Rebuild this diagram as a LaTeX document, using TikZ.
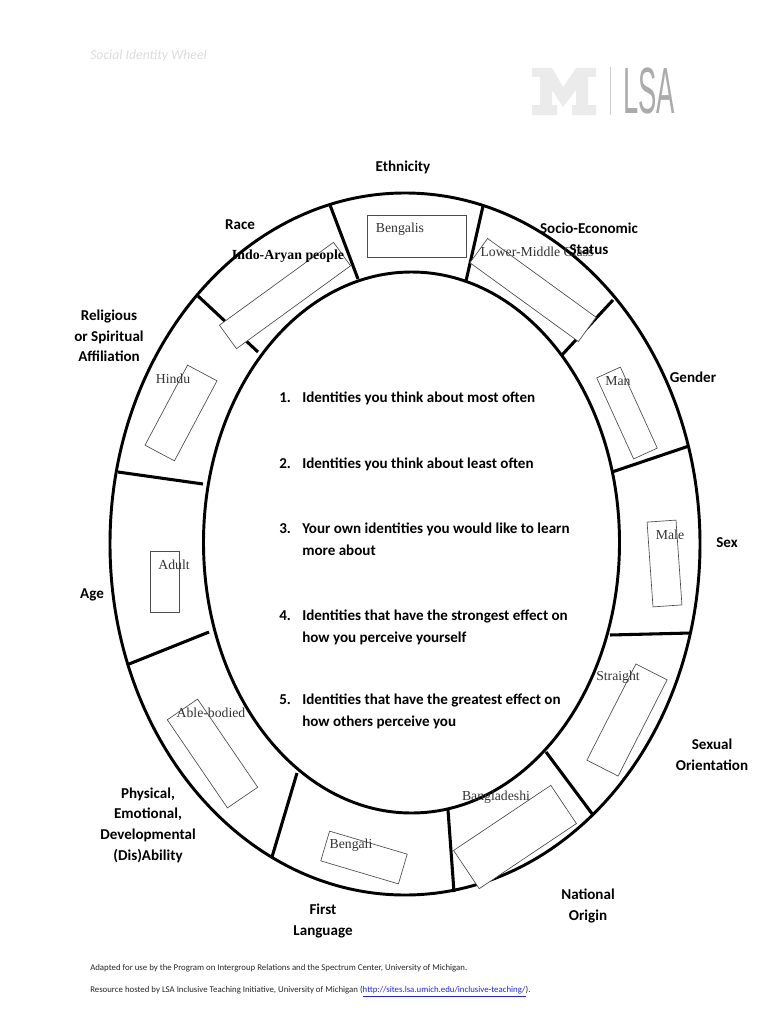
\documentclass[tikz,border=0pt]{standalone}
\usepackage{fontspec}
\usetikzlibrary{shapes.geometric}
\setmainfont{Carlito}
\newfontfamily\boxfont{Liberation Serif}
\newfontfamily\logofont{Liberation Sans}
\definecolor{logolight}{HTML}{EBEBEB}
\definecolor{logodark}{HTML}{ABABAB}
\definecolor{titlegray}{HTML}{DCDCDC}
\definecolor{linkblue}{HTML}{2020FF}

\begin{document}
\begin{tikzpicture}[x=0.75pt,y=-0.75pt]
\useasboundingbox (0,0) rectangle (768,1024);
\begin{scope}[ring/.style={ellipse,draw=black,line width=2.2pt,inner sep=0pt,outer sep=0pt}]
    \node (outer) [ring,minimum width=442.5pt,minimum height=526.5pt] at (405,544) {};
    \node (inner) [ring,minimum width=312pt,minimum height=405.75pt] at (411.5,542.5) {};
\end{scope}
\begin{scope}
    \coordinate (a1) at (330,205);
    \coordinate (a2) at (358,279);
    \coordinate (b1) at (483,206);
    \coordinate (b2) at (466,281);
    \coordinate (c1) at (613,300);
    \coordinate (c2) at (561,356);
    \coordinate (d1) at (689,446);
    \coordinate (d2) at (612,472);
    \coordinate (e1) at (691,633);
    \coordinate (e2) at (610,635);
    \coordinate (f1) at (593,815);
    \coordinate (f2) at (546,752);
    \coordinate (g1) at (454,892);
    \coordinate (g2) at (448,810);
    \coordinate (h1) at (272,857);
    \coordinate (h2) at (297,773);
    \coordinate (i1) at (129,664);
    \coordinate (i2) at (209,632);
    \coordinate (j1) at (118,472);
    \coordinate (j2) at (203,484);
    \coordinate (k1) at (198,296);
    \coordinate (k2) at (258,352);
\end{scope}
\begin{scope}[spoke/.style={draw=black,line width=2.3pt}]
    \path (a1) edge [spoke] (a2);
    \path (b1) edge [spoke] (b2);
    \path (c1) edge [spoke] (c2);
    \path (d1) edge [spoke] (d2);
    \path (e1) edge [spoke] (e2);
    \path (f1) edge [spoke] (f2);
    \path (g1) edge [spoke] (g2);
    \path (h1) edge [spoke] (h2);
    \path (i1) edge [spoke] (i2);
    \path (j1) edge [spoke] (j2);
    \path (k1) edge [spoke] (k2);
\end{scope}
\begin{scope}[every node/.style={rectangle,draw=black!70,fill=white,line width=0.5pt,inner sep=0pt}]
    \node (bengalisbox) [minimum width=74.25pt,minimum height=31.5pt] at (416.5,236) {};
    \node (indobox) [minimum width=105.75pt,minimum height=21.75pt,rotate=36] at (285,295.5) {};
    \node (classbox) [minimum width=100.5pt,minimum height=22.5pt,rotate=-36] at (533,290) {};
    \node (manbox) [minimum width=66.8pt,minimum height=19.5pt,rotate=-65.5] at (627,413) {};
    \node (hindubox) [minimum width=68pt,minimum height=25pt,rotate=62] at (181,413) {};
    \node (malebox) [minimum width=63.75pt,minimum height=21.75pt,rotate=-86] at (664.5,563.5) {};
    \node (straightbox) [minimum width=81pt,minimum height=26.25pt,rotate=63] at (627,720) {};
    \node (adultbox) [minimum width=21.75pt,minimum height=46pt] at (164.5,582) {};
    \node (ablebox) [minimum width=80pt,minimum height=27.5pt,rotate=-55.7] at (212.5,753.5) {};
    \node (bengalibox) [minimum width=60.75pt,minimum height=23.25pt,rotate=-16.5] at (364,857.5) {};
    \node (originbox) [minimum width=87.75pt,minimum height=34.5pt,rotate=33.8] at (515,837) {};
\end{scope}
\begin{scope}[every node/.style={font=\boxfont\fontsize{10.3pt}{12pt}\selectfont,text=black!80,inner sep=0pt}]
    \node (bengalis) at (400,229) {Bengalis};
    \node (indo) [text=black,font=\boxfont\bfseries\fontsize{10.4pt}{12pt}\selectfont] at (288,256) {Indo-Aryan people};
    \node (class) at (537,251.5) {Lower-Middle Class};
    \node (man) at (618,381) {Man};
    \node (hindu) at (173,379) {Hindu};
    \node (male) at (670,535) {Male};
    \node (straight) at (618,677) {Straight};
    \node (adult) at (174,565) {Adult};
    \node (able) at (211,713) {Able-bodied};
    \node (bengali) at (351,845) {Bengali};
    \node (bangladeshi) at (496,797) {Bangladeshi};
\end{scope}
\begin{scope}[every node/.style={font=\bfseries\fontsize{11.3pt}{15.5pt}\selectfont,align=center,inner sep=0pt}]
    \node (ethnicity) at (403,167) {Ethnicity};
    \node (race) at (240,225) {Race};
    \node (socio) at (589,239) {Socio-Economic\\Status};
    \node (gender) at (693,377) {Gender};
    \node (sex) at (727,543) {Sex};
    \node (orientation) at (712,755) {Sexual\\Orientation};
    \node (origin) at (588,906) {National\\Origin};
    \node (language) at (323,921) {First\\Language};
    \node (disability) at (148,825) {Physical,\\Emotional,\\Developmental\\(Dis)Ability};
    \node (age) at (92,595) {Age};
    \node (religion) at (109,336) {Religious\\or Spiritual\\Affiliation};
\end{scope}
\begin{scope}[every node/.style={font=\bfseries\fontsize{11.3pt}{16.5pt}\selectfont,anchor=west,align=left,inner sep=0pt}]
    \node (n1) at (279,398) {1.};
    \node (q1) at (302,398) {Identities you think about most often};
    \node (n2) at (279,464) {2.};
    \node (q2) at (302,464) {Identities you think about least often};
    \node (n3) at (279,529) {3.};
    \node (q3) at (302,539) {Your own identities you would like to learn\\more about};
    \node (n4) at (279,615.5) {4.};
    \node (q4) at (302,627) {Identities that have the strongest effect on\\how you perceive yourself};
    \node (n5) at (279,700) {5.};
    \node (q5) at (302,711) {Identities that have the greatest effect on\\how others perceive you};
\end{scope}
\begin{scope}[every node/.style={anchor=west,inner sep=0pt,font=\fontsize{6.6pt}{8pt}\selectfont,text=black!85}]
    \node (adapted) at (90,968) {Adapted for use by the Program on Intergroup Relations and the Spectrum Center, University of Michigan.};
    \node (hosted) at (90,991.5) {Resource hosted by LSA Inclusive Teaching Initiative, University of Michigan (\textcolor{linkblue}{\underline{http://sites.lsa.umich.edu/inclusive-teaching/}}).};
    \node (title) [font=\itshape\fontsize{10.3pt}{12pt}\selectfont,text=titlegray] at (90,56) {Social Identity Wheel};
\end{scope}
\fill [logolight] (532,68) -- (552,68) -- (563,87) -- (576,68) -- (596,68) -- (596,77) -- (588,77) -- (588,105) -- (596,105) -- (596,115) -- (572,115) -- (572,105) -- (576,105) -- (576,90) -- (563,107) -- (552,90) -- (552,105) -- (557,105) -- (557,115) -- (532,115) -- (532,105) -- (540,105) -- (540,77) -- (532,77) -- cycle;
\draw [logolight!70!gray,line width=0.6pt] (610,67) -- (610,115);
\node (lsa) [font=\logofont\fontsize{49pt}{49pt}\selectfont,text=logodark,xscale=0.42,inner sep=0pt] at (649,91.5) {LSA};
\end{tikzpicture}
\end{document}
